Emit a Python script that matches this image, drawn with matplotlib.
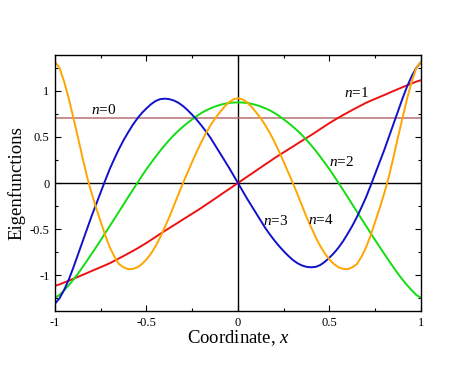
import matplotlib
matplotlib.use("Agg")
import matplotlib.pyplot as plt
import numpy as np
from matplotlib.ticker import MultipleLocator, FuncFormatter

plt.rcParams['font.family'] = 'Liberation Serif'
plt.rcParams['mathtext.fontset'] = 'custom'
plt.rcParams['mathtext.rm'] = 'Liberation Serif'
plt.rcParams['mathtext.it'] = 'Liberation Serif:italic'
plt.rcParams['axes.unicode_minus'] = False

# values, x >= 0 half (0, 0.025, ..., 1); n=2,4 even, n=1,3 odd
x_half = [0, 0.025, 0.05, 0.075, 0.1, 0.125, 0.15, 0.175, 0.2, 0.225, 0.25,
          0.275, 0.3, 0.325, 0.35, 0.375, 0.4, 0.425, 0.45, 0.475, 0.5,
          0.525, 0.55, 0.575, 0.6, 0.625, 0.65, 0.675, 0.7, 0.725, 0.75,
          0.775, 0.8, 0.825, 0.85, 0.875, 0.9, 0.925, 0.95, 0.975, 1.0]
n0_level = 0.707
n1_half = [0, 0.034, 0.068, 0.101, 0.135, 0.169, 0.203, 0.236, 0.27, 0.302, 0.333,
           0.364, 0.395, 0.427, 0.458, 0.489, 0.52, 0.552, 0.585, 0.618, 0.65,
           0.68, 0.71, 0.738, 0.765, 0.792, 0.818, 0.844, 0.87, 0.892, 0.913,
           0.934, 0.955, 0.977, 0.998, 1.019, 1.04, 1.06, 1.08, 1.10, 1.115]
n2_half = [0.875, 0.873, 0.868, 0.859, 0.846, 0.83, 0.81, 0.787, 0.76, 0.727, 0.69,
           0.653, 0.612, 0.568, 0.52, 0.467, 0.41, 0.35, 0.285, 0.218, 0.15,
           0.076, 0.0, -0.076, -0.153, -0.232, -0.31, -0.388, -0.465, -0.543, -0.62,
           -0.695, -0.77, -0.843, -0.915, -0.985, -1.05, -1.11, -1.165, -1.215, -1.245]
n3_half = [0, -0.085, -0.17, -0.25, -0.33, -0.41, -0.49, -0.56, -0.625, -0.685, -0.74,
           -0.79, -0.835, -0.87, -0.895, -0.91, -0.915, -0.91, -0.89, -0.855, -0.81,
           -0.76, -0.70, -0.63, -0.55, -0.465, -0.37, -0.265, -0.155, -0.03, 0.10,
           0.23, 0.36, 0.50, 0.64, 0.78, 0.92, 1.05, 1.16, 1.25, 1.31]
n4_half = [0.92, 0.908, 0.875, 0.825, 0.765, 0.70, 0.625, 0.54, 0.445, 0.34, 0.23,
           0.115, 0.0, -0.12, -0.245, -0.37, -0.48, -0.59, -0.685, -0.765, -0.83,
           -0.88, -0.915, -0.932, -0.935, -0.915, -0.88, -0.80, -0.70, -0.57, -0.42,
           -0.27, -0.11, 0.07, 0.28, 0.50, 0.71, 0.92, 1.10, 1.25, 1.315]

xh = np.array(x_half)
x = np.concatenate([-xh[::-1], xh[1:]])

def even(h):
    h = np.array(h)
    return np.concatenate([h[::-1], h[1:]])

def odd(h):
    h = np.array(h)
    return np.concatenate([-h[::-1], h[1:]])

fig = plt.figure(figsize=(4.74, 3.66), dpi=100)
ax = fig.add_axes([0.116, 0.150, 0.772, 0.700])

ax.axhline(0, color='black', lw=1.0, zorder=1)
ax.axvline(0, color='black', lw=1.0, zorder=1)

ax.plot([-1, 1], [n0_level, n0_level], color='#b87070', lw=1.1)
ax.plot(x, odd(n1_half), color='#ee1111', lw=1.4)
ax.plot(x, even(n2_half), color='#11dd11', lw=1.4)
ax.plot(x, odd(n3_half), color='#1111cc', lw=1.4)
ax.plot(x, even(n4_half), color='#ffa500', lw=1.4)

fs = 11
ax.text(-0.805, 0.745, '$n$=0', fontsize=fs)
ax.text(0.58, 0.935, '$n$=1', fontsize=fs)
ax.text(0.495, 0.18, '$n$=2', fontsize=fs)
ax.text(0.135, -0.46, '$n$=3', fontsize=fs)
ax.text(0.385, -0.45, '$n$=4', fontsize=fs)

ax.set_xlim(-1, 1)
ax.set_ylim(-1.39, 1.39)
ax.xaxis.set_major_locator(MultipleLocator(0.5))
ax.xaxis.set_minor_locator(MultipleLocator(0.25))
ax.yaxis.set_major_locator(MultipleLocator(0.5))
ax.yaxis.set_minor_locator(MultipleLocator(0.25))
fmt = FuncFormatter(lambda v, p: '%g' % v)
ax.xaxis.set_major_formatter(fmt)
ax.yaxis.set_major_formatter(fmt)
ax.tick_params(which='both', direction='in', top=True, right=True, labelsize=9, width=0.8)
ax.tick_params(which='major', length=4, pad=4)
ax.tick_params(which='minor', length=2)
for s in ax.spines.values():
    s.set_linewidth(1.0)

ax.set_xlabel('Coordinate, $x$', fontsize=13.5, labelpad=0)
ax.set_ylabel('Eigenfunctions', fontsize=13.5, labelpad=3)

fig.savefig('out.png', dpi=100)
